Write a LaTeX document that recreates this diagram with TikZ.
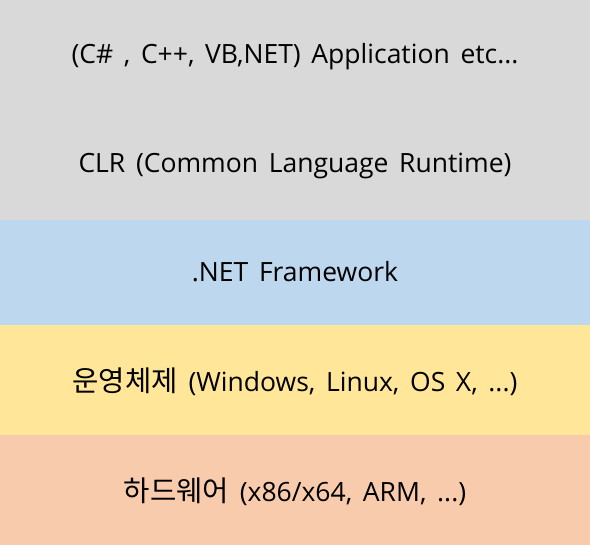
\documentclass[tikz,border=0pt]{standalone}
\usepackage{fontspec}
\setmainfont[WordSpace=1.55]{Open Sans}
\newfontfamily\kr[Scale=1.08]{Noto Sans CJK KR}
\definecolor{lgray}{HTML}{D9D9D9}
\definecolor{lblue}{HTML}{BDD7EE}
\definecolor{lyellow}{HTML}{FFE699}
\definecolor{lorange}{HTML}{F8CBAD}
\tikzset{
  lbl/.style={font=\fontsize{26.5}{30}\selectfont, text=black, anchor=center, inner sep=0pt}
}
\begin{document}
\begin{tikzpicture}[x=1pt,y=-1pt]
\useasboundingbox (0,0) rectangle (590,545);
\fill[lgray] (0,0) rectangle (590,220);
\fill[lblue] (0,220) rectangle (590,325);
\fill[lyellow] (0,325) rectangle (590,435);
\fill[lorange] (0,435) rectangle (590,545);
\node[lbl] (app) at (295,57) {(C\# , C++, VB,NET) Application etc...};
\node[lbl] (clr) at (295,166) {CLR (Common Language Runtime)};
\node[lbl] (net) at (295,272) {.NET Framework};
\node[lbl] (os) at (295,382) {{\kr 운영체제} (Windows, Linux, OS X, ...)};
\node[lbl] (hw) at (295,492) {{\kr 하드웨어} (x86/x64, ARM, ...)};
\end{tikzpicture}
\end{document}
